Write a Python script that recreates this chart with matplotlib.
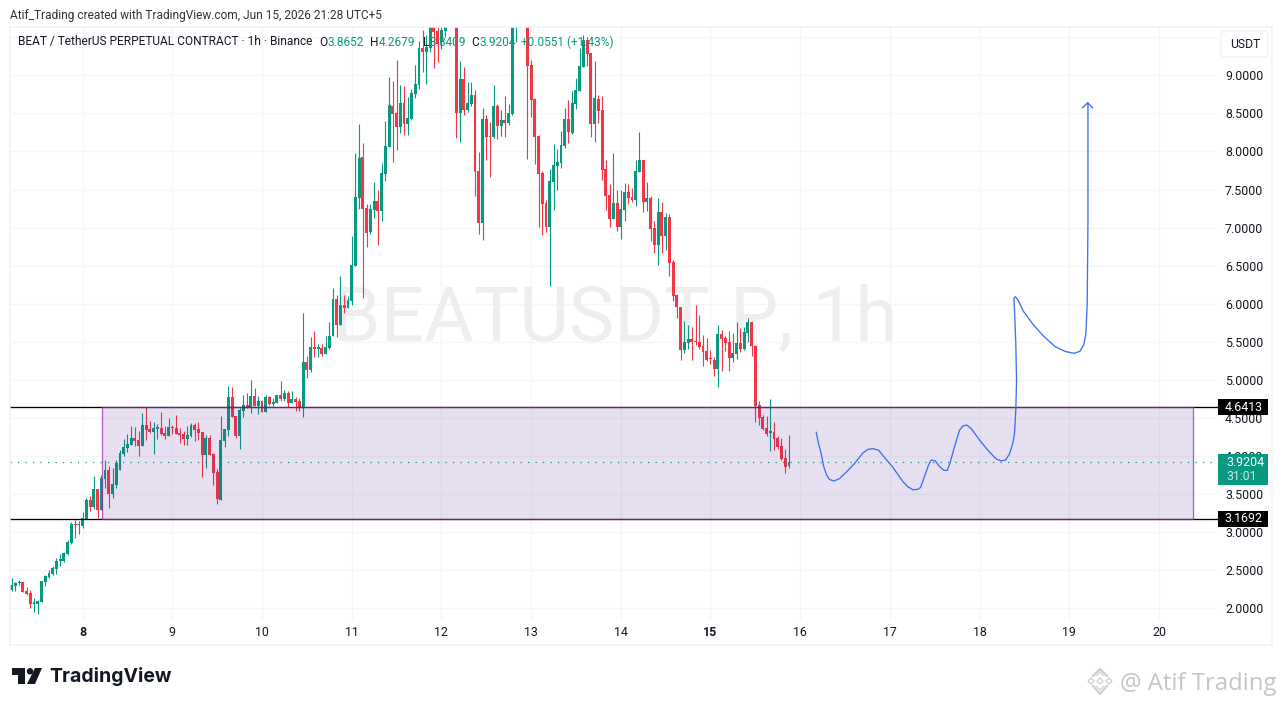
import matplotlib
matplotlib.use('Agg')
import matplotlib.pyplot as plt
from matplotlib.patches import Rectangle, FancyBboxPatch, Polygon, Circle

plt.rcParams['font.family'] = ['Roboto', 'DejaVu Sans']

### Candles, 1h, from Jun 7 05:00 (values above 9.64 are cut off by the pane, estimated)
opens = [2.23, 2.28, 2.32, 2.34, 2.22, 2.186, 2.05, 2.05, 2.07, 2.335,
         2.40, 2.44, 2.51, 2.615, 2.61, 2.70, 2.85, 3.095, 3.08, 3.07,
         3.16, 3.415, 3.32, 3.56, 3.28, 3.69, 3.81, 3.49, 3.61, 3.81,
         4.02, 4.10, 4.14, 4.23, 4.20, 4.125, 4.40, 4.35, 4.31, 4.355,
         4.36, 4.295, 4.255, 4.375, 4.365, 4.295, 4.28, 4.215, 4.255, 4.40,
         4.35, 4.31, 4.005, 4.23, 4.02, 3.78, 3.42, 4.19, 4.335, 4.77,
         4.52, 4.255, 4.585, 4.665, 4.625, 4.785, 4.65, 4.715, 4.57, 4.77,
         4.68, 4.69, 4.795, 4.745, 4.82, 4.69, 4.745, 4.72, 4.64, 5.23,
         5.125, 5.43, 5.405, 5.415, 5.33, 5.415, 5.57, 6.06, 5.715, 5.98,
         5.94, 6.03, 6.49, 7.39, 7.93, 7.255, 6.94, 7.23, 7.35, 7.22,
         7.705, 8.06, 8.60, 8.505, 8.32, 8.64, 8.36, 8.43, 8.755, 8.875,
         9.36, 9.31, 9.365, 9.80, 9.585, 9.44, 9.585, 9.8, 9.9, 10.1,
         8.505, 8.955, 8.545, 8.625, 8.74, 7.745, 7.06, 8.43, 8.205, 8.19,
         8.60, 8.335, 8.415, 8.375, 8.49, 9.9, 10.1, 10.2, 10.25, 9.14,
         8.69, 8.205, 7.72, 7.32, 7.005, 7.60, 7.81, 7.85, 8.07, 8.43,
         8.245, 8.625, 8.795, 9.11, 9.47, 9.30, 8.36, 8.69, 8.545, 7.77,
         7.425, 7.11, 7.32, 7.005, 7.23, 7.47, 7.40, 7.36, 7.73, 7.89,
         7.335, 7.39, 6.995, 6.77, 7.20, 6.89, 7.135, 6.545, 6.11, 5.96,
         5.385, 5.48, 5.53, 5.505, 5.49, 5.44, 5.37, 5.27, 5.255, 5.14,
         5.60, 5.54, 5.495, 5.285, 5.335, 5.48, 5.40, 5.61, 5.76, 5.44,
         4.665, 4.51, 4.365, 4.30, 4.305, 4.23, 4.125, 3.965, 3.8652]
highs = [2.388, 2.34, 2.36, 2.34, 2.27, 2.23, 2.13, 2.10, 2.35, 2.43,
         2.49, 2.545, 2.65, 2.70, 2.735, 2.89, 3.125, 3.15, 3.14, 3.26,
         3.44, 3.47, 3.73, 3.56, 3.745, 3.94, 3.86, 3.835, 3.94, 4.07,
         4.22, 4.28, 4.39, 4.375, 4.32, 4.56, 4.64, 4.455, 4.44, 4.415,
         4.57, 4.39, 4.49, 4.40, 4.53, 4.36, 4.32, 4.39, 4.43, 4.43,
         4.435, 4.31, 4.27, 4.27, 4.03, 3.82, 4.52, 4.35, 4.915, 4.90,
         4.52, 4.625, 4.795, 4.82, 5.0, 4.89, 4.785, 4.73, 4.795, 4.785,
         4.755, 4.795, 4.98, 4.86, 4.85, 4.85, 4.77, 4.76, 5.87, 5.31,
         5.56, 5.635, 5.465, 5.465, 5.57, 5.755, 6.205, 6.11, 6.36, 6.11,
         6.10, 6.89, 7.98, 8.36, 8.11, 7.31, 7.31, 7.60, 7.495, 7.85,
         8.40, 8.98, 8.93, 9.205, 8.875, 8.86, 8.72, 8.82, 9.14, 9.46,
         9.60, 9.53, 10.0, 10.0, 9.8, 9.8, 9.9, 10.1, 10.2, 10.3,
         9.19, 9.11, 8.915, 8.915, 8.81, 7.995, 8.57, 8.48, 8.39, 8.875,
         8.625, 8.545, 8.73, 8.625, 10.3, 10.3, 10.3, 10.4, 10.4, 9.2,
         8.7, 8.22, 7.745, 7.36, 7.77, 8.10, 8.03, 8.27, 8.57, 8.68,
         8.795, 8.97, 9.36, 9.53, 9.50, 9.30, 9.19, 8.745, 8.73, 7.89,
         7.57, 7.98, 7.495, 7.495, 7.59, 7.575, 7.52, 7.89, 8.255, 7.89,
         7.60, 7.415, 7.085, 7.39, 7.335, 7.19, 7.175, 6.57, 6.13, 5.96,
         5.77, 5.72, 5.69, 5.98, 5.845, 5.585, 5.55, 5.39, 5.295, 5.72,
         5.65, 5.57, 5.64, 5.615, 5.76, 5.68, 5.69, 5.81, 5.76, 5.455,
         4.72, 4.535, 4.525, 4.74, 4.44, 4.255, 4.23, 4.085, 4.2679]
lows = [2.22, 2.22, 2.30, 2.20, 2.165, 1.995, 1.94, 1.915, 2.07, 2.28,
        2.39, 2.43, 2.44, 2.545, 2.60, 2.69, 2.84, 2.915, 2.97, 3.05,
        3.16, 3.265, 3.29, 3.18, 3.28, 3.57, 3.31, 3.44, 3.57, 3.81,
        3.99, 4.05, 4.14, 4.125, 3.99, 4.125, 4.20, 4.295, 4.02, 4.215,
        4.27, 4.215, 4.255, 4.28, 4.28, 4.165, 4.14, 4.14, 4.245, 4.19,
        4.205, 3.72, 3.835, 4.005, 3.61, 3.36, 3.415, 4.11, 4.255, 4.505,
        4.23, 4.085, 4.505, 4.625, 4.56, 4.65, 4.545, 4.57, 4.57, 4.665,
        4.65, 4.69, 4.72, 4.72, 4.64, 4.69, 4.585, 4.585, 4.51, 5.02,
        5.10, 5.295, 5.295, 5.31, 5.33, 5.40, 5.57, 5.56, 5.715, 5.875,
        5.94, 5.98, 6.49, 7.245, 6.07, 6.745, 6.915, 7.125, 6.77, 7.085,
        7.61, 8.06, 7.86, 8.02, 8.24, 8.215, 8.215, 8.415, 8.70, 8.82,
        9.05, 8.89, 9.31, 9.10, 9.18, 9.35, 9.5, 9.7, 9.8, 8.18,
        8.125, 8.48, 8.52, 8.60, 7.415, 6.915, 6.835, 7.89, 7.665, 8.18,
        8.165, 8.20, 8.19, 8.35, 8.48, 9.44, 10.0, 10.1, 7.90, 8.455,
        7.835, 7.005, 6.895, 6.94, 6.23, 7.23, 7.495, 7.78, 8.045, 8.11,
        8.23, 8.56, 8.795, 9.11, 9.125, 8.19, 8.125, 8.375, 7.625, 7.23,
        7.005, 7.11, 6.95, 6.85, 7.085, 7.31, 7.335, 7.285, 7.73, 7.205,
        7.215, 6.82, 6.665, 6.505, 6.665, 6.70, 6.36, 6.03, 5.815, 5.26,
        5.35, 5.40, 5.26, 5.45, 5.40, 5.18, 5.24, 5.205, 5.05, 4.90,
        5.11, 5.375, 5.11, 5.23, 5.27, 5.36, 5.39, 5.50, 5.31, 4.44,
        4.40, 4.34, 4.26, 4.06, 4.07, 4.085, 3.94, 3.77, 3.8409]
closes = [2.296, 2.32, 2.33, 2.20, 2.18, 2.04, 2.06, 2.085, 2.35, 2.415,
          2.45, 2.52, 2.61, 2.625, 2.72, 2.86, 3.10, 3.085, 3.09, 3.18,
          3.415, 3.32, 3.56, 3.28, 3.70, 3.81, 3.49, 3.625, 3.90, 4.03,
          4.11, 4.15, 4.23, 4.19, 4.125, 4.40, 4.335, 4.305, 4.36, 4.36,
          4.285, 4.255, 4.375, 4.36, 4.28, 4.27, 4.215, 4.27, 4.40, 4.335,
          4.295, 4.005, 4.23, 4.005, 3.77, 3.43, 4.205, 4.35, 4.77, 4.505,
          4.255, 4.60, 4.665, 4.625, 4.785, 4.65, 4.715, 4.57, 4.77, 4.68,
          4.705, 4.795, 4.745, 4.82, 4.69, 4.745, 4.705, 4.635, 5.225, 5.125,
          5.43, 5.40, 5.41, 5.33, 5.43, 5.57, 6.06, 5.715, 5.98, 5.94,
          6.045, 6.505, 7.40, 7.915, 7.245, 6.93, 7.245, 7.35, 7.22, 7.72,
          8.07, 8.61, 8.495, 8.32, 8.64, 8.36, 8.44, 8.77, 8.89, 9.36,
          9.31, 9.375, 9.8, 9.57, 9.42, 9.60, 9.7, 9.9, 10.1, 8.505,
          8.955, 8.545, 8.64, 8.74, 7.73, 7.06, 8.43, 8.19, 8.19, 8.60,
          8.335, 8.415, 8.375, 8.505, 9.7, 10.1, 10.2, 10.25, 9.125, 8.68,
          8.19, 7.705, 7.31, 7.005, 7.61, 7.82, 7.86, 8.085, 8.43, 8.255,
          8.64, 8.81, 9.125, 9.47, 9.28, 8.36, 8.70, 8.53, 7.755, 7.415,
          7.11, 7.32, 7.005, 7.245, 7.47, 7.39, 7.36, 7.745, 7.89, 7.335,
          7.39, 6.98, 6.77, 7.20, 6.89, 7.135, 6.53, 6.10, 5.96, 5.385,
          5.49, 5.53, 5.49, 5.49, 5.425, 5.36, 5.255, 5.265, 5.14, 5.60,
          5.53, 5.48, 5.285, 5.35, 5.48, 5.40, 5.625, 5.76, 5.44, 4.65,
          4.495, 4.35, 4.285, 4.305, 4.215, 4.11, 3.95, 3.85, 3.9204]

day_ticks = [19, 43, 67, 91, 115, 139, 163, 187, 211, 235, 259, 283, 307]
day_labels = ['8', '9', '10', '11', '12', '13', '14', '15', '16', '17', '18', '19', '20']
bold_days = ['8', '15']
price_ticks = [2.0, 2.5, 3.0, 3.5, 4.0, 4.5, 5.0, 5.5, 6.0, 6.5, 7.0, 7.5, 8.0, 8.5, 9.0]
grid_prices = price_ticks + [9.5]

zone_top = 4.6413
zone_bottom = 3.1692
zone_start = 24.3
zone_end = 316.0
last_price = 3.9204

# hand drawn forecast line
path_hours = [215.3, 215.9, 216.6, 217.3, 218.05, 218.85, 220.0, 221.5, 223.3, 225.55,
              227.8, 229.1, 230.45, 232.0, 233.55, 235.8, 238.5, 239.8, 241.15, 242.5,
              243.2, 244.1, 245.35, 246.05, 247.15, 248.3, 249.45, 250.35, 251.05, 252.3,
              253.65, 254.55, 255.6, 256.75, 259.0, 261.2, 263.45, 264.8, 265.95, 267.0,
              267.9, 268.35, 268.7, 268.9, 268.7, 268.35, 268.2, 268.6, 269.35, 270.7,
              273.4, 276.05, 279.15, 281.85, 284.25, 285.85, 286.9, 287.45, 287.8, 288.0, 288.0]
path_prices = [4.305, 4.16, 4.03, 3.855, 3.745, 3.685, 3.665, 3.695, 3.78, 3.895,
               4.035, 4.08, 4.09, 4.07, 3.975, 3.845, 3.655, 3.59, 3.55, 3.555,
               3.58, 3.70, 3.875, 3.94, 3.93, 3.855, 3.805, 3.805, 3.895, 4.115,
               4.335, 4.39, 4.40, 4.355, 4.205, 4.07, 3.955, 3.93, 3.94, 4.02,
               4.16, 4.29, 4.60, 5.0, 5.47, 5.915, 6.07, 6.09, 6.04, 5.90,
               5.72, 5.575, 5.435, 5.37, 5.345, 5.37, 5.46, 5.61, 6.0, 7.05, 8.64]
head_hours = [286.55, 287.9, 289.25]
head_prices = [8.575, 8.64, 8.575]

GREEN = '#089981'
RED = '#f23645'
GRID = '#f4f5f7'
TEXT = '#131722'
W, H = 1283, 706

fig = plt.figure(figsize=(W / 100, H / 100), dpi=100, facecolor='white')
# pane is px 10..1218 wide, px 27..620 high
ax = fig.add_axes([10 / W, (H - 620) / H, 1208 / W, 593 / H])
ax.set_xlim(-0.43, 322.8)
ax.set_ylim(1.836, 9.638)
for s in ax.spines.values():
    s.set_visible(False)

for p in grid_prices:
    ax.axhline(p, color=GRID, lw=1, zorder=0)
for d in day_ticks:
    ax.axvline(d, color=GRID, lw=1, zorder=0)

ax.text(161.5, 5.78, 'BEATUSDT.P, 1h', fontsize=55, color='#eeeeee',
        ha='center', va='center', zorder=1)

### Velas
hours = list(range(len(opens)))
colors = [GREEN if c >= o else RED for o, c in zip(opens, closes)]
bottoms = [min(o, c) for o, c in zip(opens, closes)]
heights = [max(abs(c - o), 0.02) for o, c in zip(opens, closes)]
ax.vlines(hours, lows, highs, colors=colors, lw=0.8, zorder=2)
ax.bar(hours, heights, bottom=bottoms, width=0.78, color=colors, lw=0, zorder=2.1)

ax.axhline(zone_top, color='black', lw=0.95, zorder=2.5)
ax.axhline(zone_bottom, color='black', lw=0.95, zorder=2.5)
ax.axhline(last_price, color=GREEN, lw=0.9, ls=(0, (1, 5)), zorder=2.6)
ax.add_patch(Rectangle((zone_start, zone_bottom), zone_end - zone_start, zone_top - zone_bottom,
                       facecolor=(88 / 255, 42 / 255, 155 / 255, 0.14),
                       edgecolor=(156 / 255, 39 / 255, 176 / 255, 0.75), lw=0.9, zorder=3))

ax.plot(path_hours, path_prices, color='#3f6ff2', lw=0.95, zorder=4, solid_joinstyle='round')
ax.plot(head_hours, head_prices, color='#3f6ff2', lw=0.95, zorder=4)

ax.yaxis.tick_right()
ax.set_yticks(price_ticks)
ax.set_yticklabels(['%.4f' % p for p in price_ticks], fontsize=8.9, color=TEXT)
ax.set_xticks(day_ticks)
ax.set_xticklabels(day_labels, fontsize=8.9, color=TEXT)
ax.tick_params(axis='both', length=0)
ax.tick_params(axis='y', pad=5)
ax.tick_params(axis='x', pad=4.3)
for lab in ax.get_xticklabels():
    if lab.get_text() in bold_days:
        lab.set_fontweight('bold')

### Capa en pixeles para textos y etiquetas
ov = fig.add_axes([0, 0, 1, 1], zorder=5)
ov.set_xlim(0, W)
ov.set_ylim(H, 0)
ov.axis('off')
ov.patch.set_alpha(0)


def price_y(p):
    return H - ax.transData.transform((0, p))[1]


ov.add_patch(Rectangle((10, 27), 1262, 618, fill=False, edgecolor='#f0f1f4', lw=1.1))

ov.text(10, 15, 'Atif_Trading created with TradingView.com, Jun 15, 2026 21:28 UTC+5',
        fontsize=8.6, color='#333333', va='center')

ov.text(18, 42, 'BEAT / TetherUS PERPETUAL CONTRACT · 1h · Binance', fontsize=8.6, color=TEXT, va='center')
legend_bits = [(319, 'O', TEXT), (327, '3.8652', GREEN), (370, 'H', TEXT), (379, '4.2679', GREEN),
               (423, 'L', TEXT), (430, '3.8409', GREEN), (471, 'C', TEXT), (479, '3.9204', GREEN),
               (521, '+0.0551 (+1.43%)', GREEN)]
for x, s, c in legend_bits:
    ov.text(x, 42, s, fontsize=8.6, color=c, va='center')

ov.add_patch(FancyBboxPatch((1224, 34), 41, 20, boxstyle='round,pad=3,rounding_size=4',
                            facecolor='white', edgecolor='#f0f1f4', lw=0.9))
ov.text(1245, 44, 'USDT', fontsize=8.7, color=TEXT, ha='center', va='center')

for p in [zone_top, zone_bottom]:
    y = price_y(p)
    ov.add_patch(Rectangle((1218, y - 8), 50, 16, facecolor='black', lw=0))
    ov.text(1243.5, y + 0.3, '%.4f' % p, fontsize=8.9, color='white', ha='center', va='center')

ov.add_patch(Rectangle((1218, 454), 50, 31, facecolor=GREEN, lw=0))
ov.text(1226, 462.7, '%.4f' % last_price, fontsize=8.9, color='white', va='center')
ov.text(1226, 477, '31:01', fontsize=8.9, color='#cdeae4', va='center')

# logo TradingView
logo = '#131722'
ov.add_patch(Polygon([(12, 668), (25, 668), (25, 684), (18, 684), (18, 675), (12, 675)], facecolor=logo, lw=0))
ov.add_patch(Circle((30, 671.3), 3.2, facecolor=logo, lw=0))
ov.add_patch(Polygon([(35, 668), (42, 668), (35, 684), (27, 684)], facecolor=logo, lw=0))
ov.text(49, 676, 'TradingView', fontsize=14, fontweight='bold', family='Inter', color=logo, va='center')

# marca de agua Binance
wm = '#cfcfcf'
cx, cy = 1100, 681
ov.add_patch(Polygon([(cx, cy - 3), (cx + 3, cy), (cx, cy + 3), (cx - 3, cy)], fill=False, edgecolor=wm, lw=0.9))
ov.add_patch(Polygon([(cx - 12, cy), (cx - 9, cy - 3), (cx - 6, cy), (cx - 9, cy + 3)], fill=False, edgecolor=wm, lw=0.9))
ov.add_patch(Polygon([(cx + 12, cy), (cx + 9, cy - 3), (cx + 6, cy), (cx + 9, cy + 3)], fill=False, edgecolor=wm, lw=0.9))
ov.plot([cx - 7, cx, cx + 7], [cy - 5, cy - 12, cy - 5], color=wm, lw=1.6)
ov.plot([cx - 4, cx, cx + 4], [cy - 5, cy - 9, cy - 5], color=wm, lw=0.8)
ov.plot([cx - 7, cx, cx + 7], [cy + 5, cy + 13, cy + 5], color=wm, lw=1.6)
ov.plot([cx - 4, cx, cx + 4], [cy + 5, cy + 9, cy + 5], color=wm, lw=0.8)
ov.text(1120, 684, '@ Atif Trading', fontsize=17.2, family='Open Sans', color='#c6c6c6', va='center')

fig.savefig('out.png', dpi=100)
